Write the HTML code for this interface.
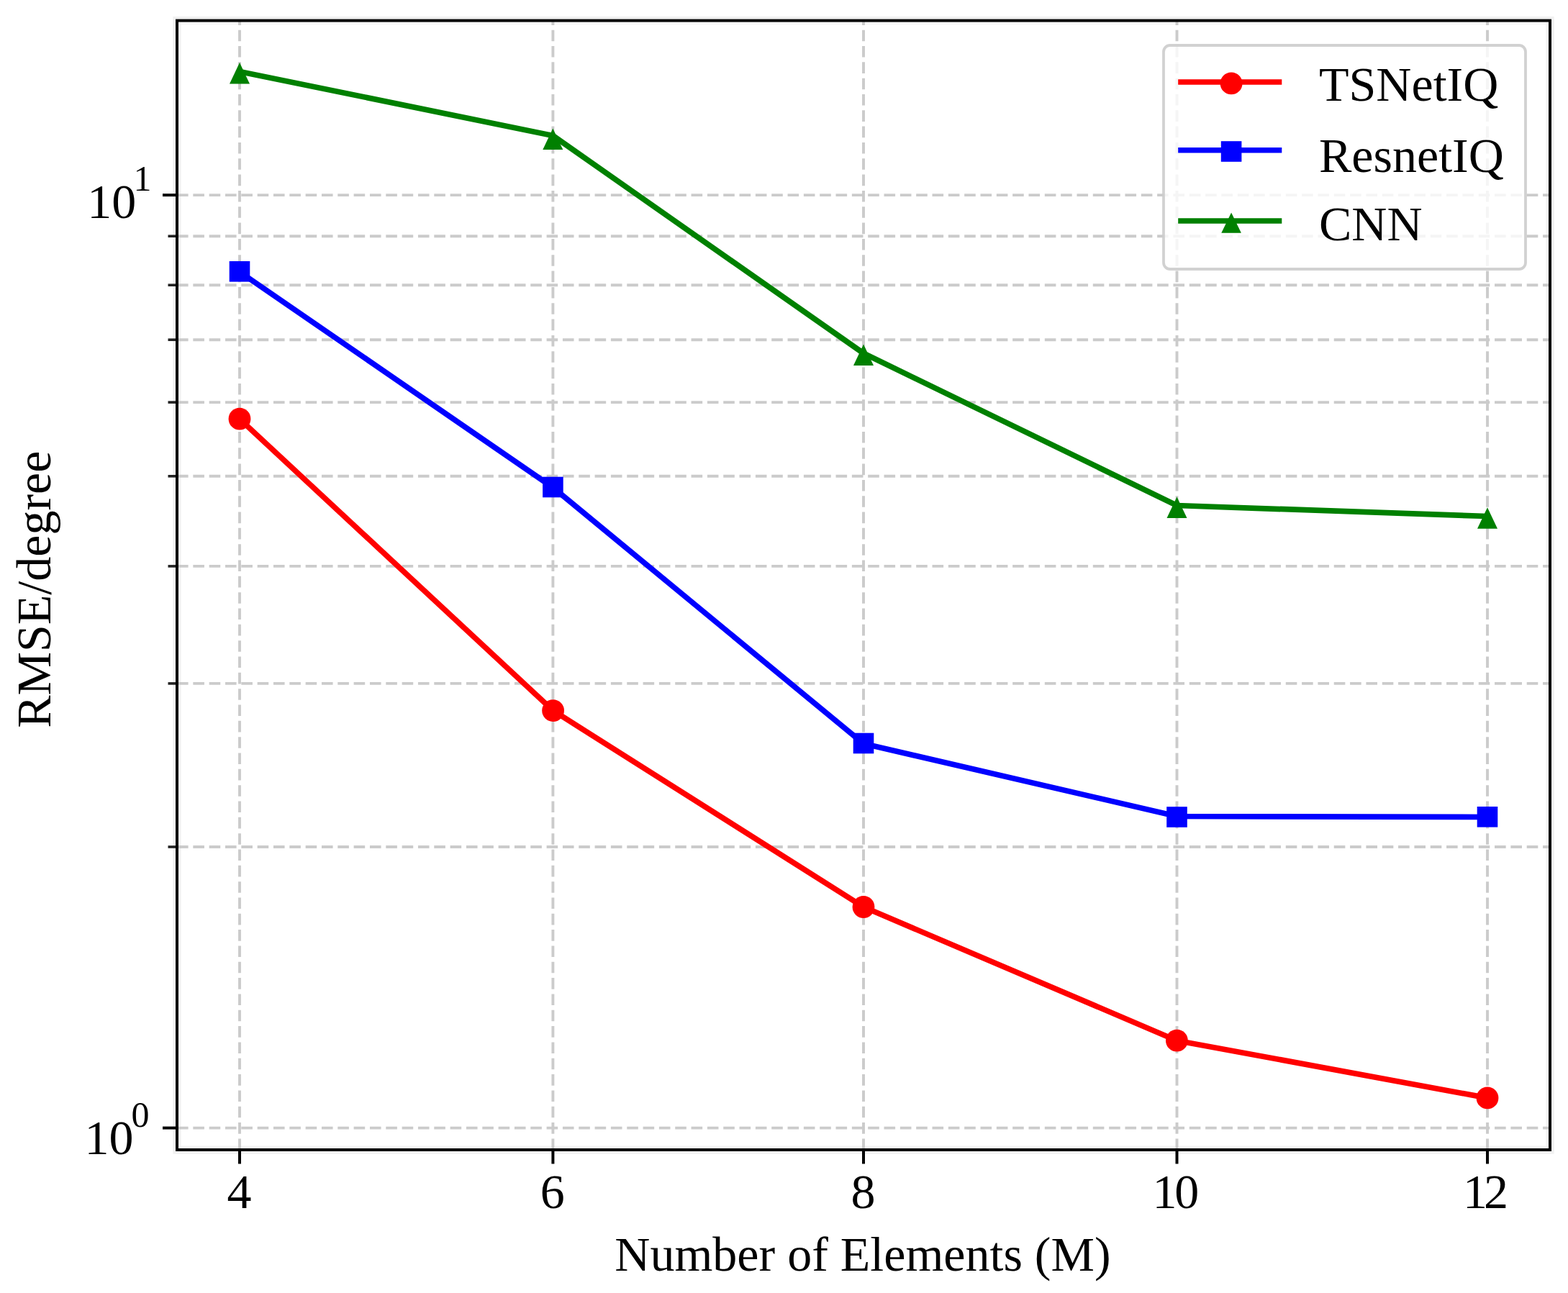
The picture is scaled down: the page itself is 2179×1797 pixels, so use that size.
<!DOCTYPE html>
<html lang="en"><head><meta charset="utf-8"><title>RMSE vs Number of Elements</title>
<style>html,body{margin:0;padding:0;background:#fff;}body{width:2179px;height:1797px;overflow:hidden;}svg{display:block;}text{font-family:"Liberation Serif","DejaVu Serif",serif;fill:#000;}</style>
</head><body>
<svg width="2179" height="1797" viewBox="0 0 2179 1797">
<rect x="0" y="0" width="2179" height="1797" fill="#ffffff"/>
<rect x="242.1" y="24.7" width="1915.8" height="1577.2" fill="none" stroke="#f1f1f1" stroke-width="3.6"/>
<rect x="249.9" y="32.5" width="1900.2" height="1561.6" fill="none" stroke="#f7f7f7" stroke-width="3.6"/>
<g stroke="#cbcbcb" stroke-width="3.9" stroke-dasharray="15.59 6.74" fill="none">
<line x1="333.0" y1="1598.0" x2="333.0" y2="28.6" stroke-dashoffset="0"/>
<line x1="768.4" y1="1598.0" x2="768.4" y2="28.6" stroke-dashoffset="0"/>
<line x1="1200.0" y1="1598.0" x2="1200.0" y2="28.6" stroke-dashoffset="0"/>
<line x1="1635.5" y1="1598.0" x2="1635.5" y2="28.6" stroke-dashoffset="0"/>
<line x1="2067.0" y1="1598.0" x2="2067.0" y2="28.6" stroke-dashoffset="0"/>
<line x1="246.0" y1="271.1" x2="2154.0" y2="271.1" stroke-dashoffset="0"/>
<line x1="246.0" y1="328.2" x2="2154.0" y2="328.2" stroke-dashoffset="0"/>
<line x1="246.0" y1="396.2" x2="2154.0" y2="396.2" stroke-dashoffset="0"/>
<line x1="246.0" y1="472.2" x2="2154.0" y2="472.2" stroke-dashoffset="0"/>
<line x1="246.0" y1="559.1" x2="2154.0" y2="559.1" stroke-dashoffset="0"/>
<line x1="246.0" y1="661.8" x2="2154.0" y2="661.8" stroke-dashoffset="0"/>
<line x1="246.0" y1="786.9" x2="2154.0" y2="786.9" stroke-dashoffset="0"/>
<line x1="246.0" y1="949.9" x2="2154.0" y2="949.9" stroke-dashoffset="0"/>
<line x1="246.0" y1="1177.0" x2="2154.0" y2="1177.0" stroke-dashoffset="0"/>
<line x1="246.0" y1="1567.6" x2="2154.0" y2="1567.6" stroke-dashoffset="0"/>
</g>
<polyline points="333.0,582.2 768.6,987.6 1200.0,1260.5 1635.4,1446.2 2067.0,1525.9" fill="none" stroke="#ff0000" stroke-width="7.7" stroke-linejoin="round" stroke-linecap="butt"/>
<circle cx="333.0" cy="582.2" r="15.4" fill="#ff0000"/>
<circle cx="768.6" cy="987.6" r="15.4" fill="#ff0000"/>
<circle cx="1200.0" cy="1260.5" r="15.4" fill="#ff0000"/>
<circle cx="1635.4" cy="1446.2" r="15.4" fill="#ff0000"/>
<circle cx="2067.0" cy="1525.9" r="15.4" fill="#ff0000"/>
<polyline points="333.0,377.8 768.4,677.5 1200.0,1033.5 1635.5,1134.5 2067.0,1135.5" fill="none" stroke="#0000ff" stroke-width="7.7" stroke-linejoin="round" stroke-linecap="butt"/>
<rect x="318.7" y="363.0" width="28.6" height="28.6" fill="#0000ff"/>
<rect x="754.1" y="662.7" width="28.6" height="28.6" fill="#0000ff"/>
<rect x="1185.7" y="1018.7" width="28.6" height="28.6" fill="#0000ff"/>
<rect x="1621.2" y="1121.2" width="28.6" height="28.6" fill="#0000ff"/>
<rect x="2052.7" y="1121.0" width="28.6" height="28.6" fill="#0000ff"/>
<polyline points="333.0,99.5 768.3,188.5 1200.0,491.0 1635.5,702.5 2067.0,717.5" fill="none" stroke="#008000" stroke-width="7.7" stroke-linejoin="round" stroke-linecap="butt"/>
<polygon points="333.0,87.0 319.0,116.5 347.0,116.5" fill="#008000"/>
<polygon points="768.3,178.4 754.3,207.9 782.3,207.9" fill="#008000"/>
<polygon points="1200.0,478.4 1186.0,507.9 1214.0,507.9" fill="#008000"/>
<polygon points="1635.5,690.5 1621.5,720.0 1649.5,720.0" fill="#008000"/>
<polygon points="2067.0,705.3 2053.0,734.8 2081.0,734.8" fill="#008000"/>
<g stroke="#000" stroke-width="4" fill="none">
<line x1="333.0" y1="1598.0" x2="333.0" y2="1617.5"/>
<line x1="768.4" y1="1598.0" x2="768.4" y2="1617.5"/>
<line x1="1200.0" y1="1598.0" x2="1200.0" y2="1617.5"/>
<line x1="1635.5" y1="1598.0" x2="1635.5" y2="1617.5"/>
<line x1="2067.0" y1="1598.0" x2="2067.0" y2="1617.5"/>
<line x1="246.0" y1="271.1" x2="226.0" y2="271.1"/>
<line x1="246.0" y1="1567.6" x2="226.0" y2="1567.6"/>
</g>
<g stroke="#222" stroke-width="3.6" fill="none">
<line x1="246.0" y1="328.2" x2="233.5" y2="328.2"/>
<line x1="246.0" y1="396.2" x2="233.5" y2="396.2"/>
<line x1="246.0" y1="472.2" x2="233.5" y2="472.2"/>
<line x1="246.0" y1="559.1" x2="233.5" y2="559.1"/>
<line x1="246.0" y1="661.8" x2="233.5" y2="661.8"/>
<line x1="246.0" y1="786.9" x2="233.5" y2="786.9"/>
<line x1="246.0" y1="949.9" x2="233.5" y2="949.9"/>
<line x1="246.0" y1="1177.0" x2="233.5" y2="1177.0"/>
</g>
<rect x="246.0" y="28.6" width="1908.0" height="1569.4" fill="none" stroke="#000" stroke-width="4"/>
<rect x="1617.0" y="63.0" width="503.0" height="311.0" rx="9" ry="9" fill="#ffffff" fill-opacity="0.8" stroke="#cccccc" stroke-opacity="0.9" stroke-width="3.8"/>
<line x1="1637.2" y1="114.0" x2="1781.3" y2="114.0" stroke="#ff0000" stroke-width="7.6"/>
<circle cx="1711.1" cy="115.9" r="15.4" fill="#ff0000"/>
<line x1="1637.2" y1="208.8" x2="1781.3" y2="208.8" stroke="#0000ff" stroke-width="7.6"/>
<rect x="1696.8" y="196.2" width="28.6" height="28.6" fill="#0000ff"/>
<line x1="1637.2" y1="307.0" x2="1781.3" y2="307.0" stroke="#008000" stroke-width="7.6"/>
<polygon points="1711.1,295.5 1697.3,323.8 1724.9,323.8" fill="#008000"/>
<text x="1833" y="140.2" font-size="68">TSNetIQ</text>
<text x="1833" y="239.4" font-size="68">ResnetIQ</text>
<text x="1833" y="333.9" font-size="68">CNN</text>
<text x="315.4" y="1679" font-size="68">4</text>
<text x="750.8" y="1679" font-size="68">6</text>
<text x="1182.4" y="1679" font-size="68">8</text>
<text x="1601.5" y="1679" font-size="68" letter-spacing="-3.3">10</text>
<text x="2033.0" y="1679" font-size="68" letter-spacing="-5.0">12</text>
<text x="121.3" y="303.3" font-size="68">10<tspan font-size="50" dx="-3.7" dy="-38">1</tspan></text>
<text x="117.4" y="1603.7" font-size="68">10<tspan font-size="50" dx="-2.9" dy="-38">0</tspan></text>
<text x="1199" y="1765.5" font-size="68" text-anchor="middle">Number of Elements (M)</text>
<text transform="translate(69.8,819.2) rotate(-90)" font-size="68" text-anchor="middle">RMSE/degree</text>
</svg>
</body></html>
